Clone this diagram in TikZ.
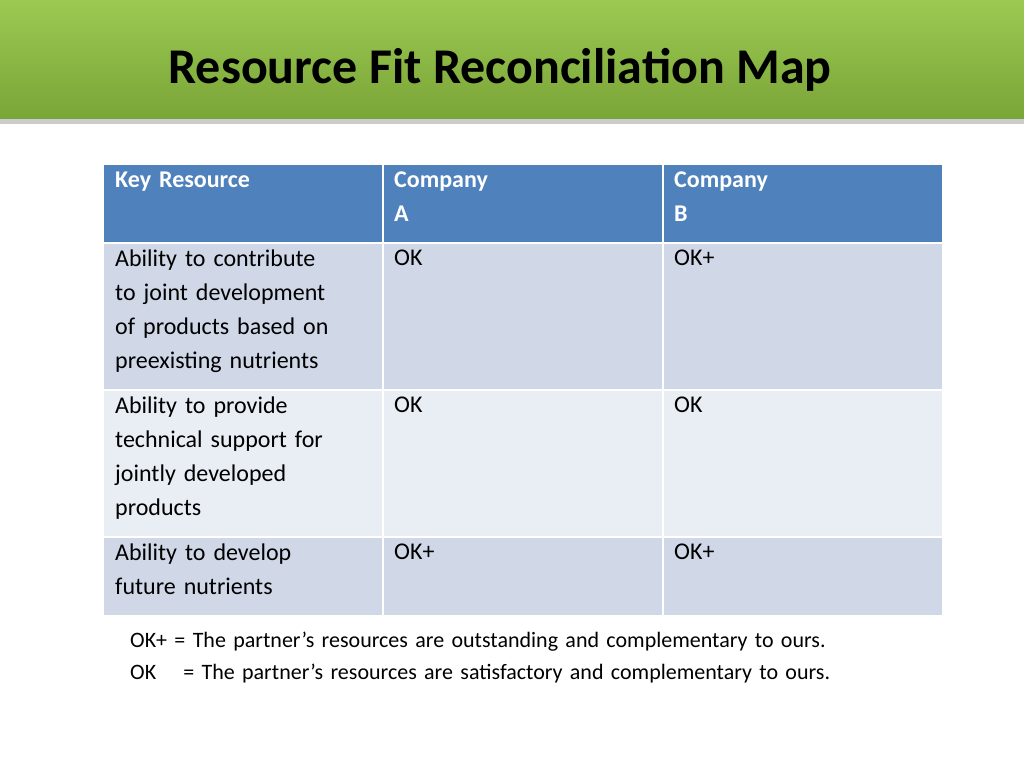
\documentclass[tikz,border=0pt]{standalone}
\usepackage{fontspec}
\setmainfont{Carlito}
\usetikzlibrary{positioning}
\definecolor{bannertop}{HTML}{9CC952}
\definecolor{bannerbot}{HTML}{7AA538}
\definecolor{headblue}{HTML}{4F81BD}
\definecolor{rowdark}{HTML}{D0D8E8}
\definecolor{rowlight}{HTML}{E9EDF4}
\begin{document}
\begin{tikzpicture}[x=1pt, y=-1pt,
                    cell/.style={draw=white, line width=2pt, anchor=north west, inner sep=0pt, outer sep=0pt},
                    celltext/.style={anchor=north west, text width=262pt, align=left, inner sep=0pt,
                                     font=\fontsize{24}{34}\selectfont},
                    headtext/.style={celltext, text=white, font=\fontsize{24}{34}\selectfont\bfseries}]
  \useasboundingbox (0,0) rectangle (1024,768);

  % Banner
  \fill[gray!40] (0,118) rectangle (1024,124);
  \shade[top color=bannertop, bottom color=bannerbot] (0,0) rectangle (1024,118);
  \node[font=\fontsize{50}{56}\selectfont\bfseries] (title) at (500,70) {Resource Fit Reconciliation Map};

  % Table backgrounds
  \fill[headblue] (104,165) rectangle (942,243);
  \fill[rowdark] (104,243) rectangle (942,390);
  \fill[rowlight] (104,390) rectangle (942,537);
  \fill[rowdark] (104,537) rectangle (942,615);
  \foreach \y in {243,390,537} \draw[white, line width=2pt] (104,\y) -- (942,\y);
  \foreach \x in {383,663} \draw[white, line width=2pt] (\x,165) -- (\x,615);

  % Header
  \node[headtext] (h1) at (115,172) {Key Resource};
  \node[headtext] (h2) at (394,172) {Company\\A};
  \node[headtext] (h3) at (674,172) {Company\\B};

  % Rows
  \node[celltext] (r1c1) at (115,250) {Ability to contribute\\to joint development\\of products based on\\preexisting nutrients};
  \node[celltext] (r1c2) at (394,250) {OK};
  \node[celltext] (r1c3) at (674,250) {OK+};
  \node[celltext] (r2c1) at (115,397) {Ability to provide\\technical support for\\jointly developed\\products};
  \node[celltext] (r2c2) at (394,397) {OK};
  \node[celltext] (r2c3) at (674,397) {OK};
  \node[celltext] (r3c1) at (115,544) {Ability to develop\\future nutrients};
  \node[celltext] (r3c2) at (394,544) {OK+};
  \node[celltext] (r3c3) at (674,544) {OK+};

  % Legend
  \node[celltext, text width=820pt, font=\fontsize{22}{32}\selectfont] (legend) at (130,632)
    {OK+ = The partner’s resources are outstanding and complementary to ours.\\
     OK\hspace{0.9em} = The partner’s resources are satisfactory and complementary to ours.};
\end{tikzpicture}
\end{document}
